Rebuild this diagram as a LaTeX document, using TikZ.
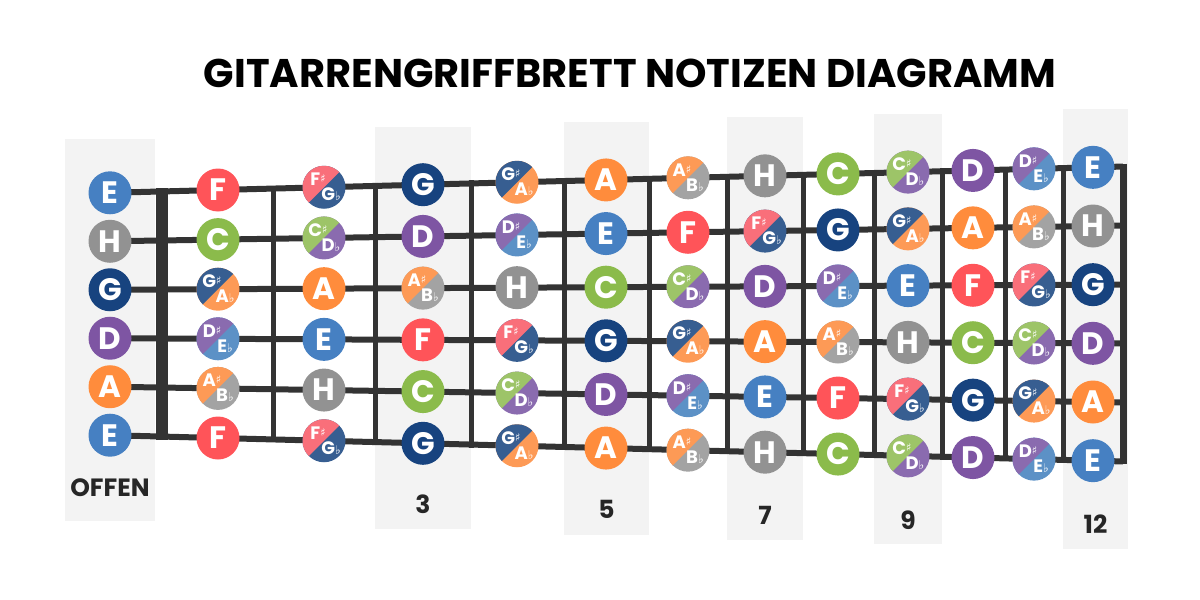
\documentclass[tikz,border=0pt]{standalone}
\usepackage{fontspec}
\setmainfont{Poppins}
\newfontfamily\accfont{DejaVu Sans}
\usetikzlibrary{positioning}
\pgfdeclarelayer{panels}
\pgfdeclarelayer{board}
\pgfsetlayers{panels,board,main}
\definecolor{ink}{HTML}{333333}
\definecolor{panelgray}{HTML}{F3F3F3}
\definecolor{noteC}{HTML}{8BBB4B}
\definecolor{noteD}{HTML}{7E55A3}
\definecolor{noteE}{HTML}{4680C2}
\definecolor{noteF}{HTML}{FF5459}
\definecolor{noteG}{HTML}{17437F}
\definecolor{noteA}{HTML}{FF8C3C}
\definecolor{noteH}{HTML}{929292}
\definecolor{noteCl}{HTML}{9DC468}
\definecolor{noteDl}{HTML}{8A6BAF}
\definecolor{noteEl}{HTML}{5C91C6}
\definecolor{noteFl}{HTML}{F96F7A}
\definecolor{noteGl}{HTML}{375E91}
\definecolor{noteAl}{HTML}{FD9A56}
\definecolor{noteHl}{HTML}{A3A3A3}
\tikzstyle{note} = [circle, minimum size=43pt, inner sep=0pt, text=white,
    font=\fontsize{31}{31}\selectfont\bfseries]
\tikzstyle{accidental} = [inner sep=0pt, text=white,
    font=\fontsize{18}{18}\selectfont\bfseries]
\tikzstyle{string} = [draw=ink, line width=6pt]
\tikzstyle{fret} = [draw=ink]
\tikzstyle{panel} = [fill=panelgray]
\tikzstyle{fretlabel} = [text=black!85, font=\fontsize{25}{25}\selectfont\bfseries]
\tikzstyle{title} = [text=black, font=\fontsize{40}{40}\selectfont\bfseries]
\tikzset{halfnote/.style 2 args={note, fill=#2, path picture={
    \fill[#1] (path picture bounding box.north west) -- (path picture bounding box.north east)
      -- (path picture bounding box.south west) -- cycle;}}}
\newcommand{\shp}{\raisebox{3pt}{\accfont\fontsize{11}{11}\selectfont ♯}}
\newcommand{\flt}{{\accfont\fontsize{12}{12}\selectfont ♭}}
\def\fretx{{162,273,375,471,564,649,727,803,874,942,1005,1063,1123}}
\def\notex{{110,218,324,423,517,606,688,765,838,908,973,1034,1093}}
\def\notenames{{"C","C","D","D","E","F","F","G","G","A","A","H"}}
\def\flatnames{{"D","D","E","E","F","G","G","A","A","B","B","C"}}
\def\isblack{{0,1,0,1,0,0,1,0,1,0,1,0}}

\begin{document}
\begin{tikzpicture}[x=1pt, y=-1pt]
    \useasboundingbox (0,0) rectangle (1200,600);
    \node [title] (title) at (630,73) {GITARRENGRIFFBRETT NOTIZEN DIAGRAMM};

    % grey panels with the fret numbers
    \foreach \xa/\xb/\ya/\yb/\ly/\txt in {65/155/139/521/488/OFFEN, 375/471/127/529/504/3,
        564/649/122/535/509/5, 727/803/117/540/515/7, 874/942/114/544/520/9, 1063/1128/109/549/524/12} {
        \begin{pgfonlayer}{panels}
            \fill [panel] (\xa,\ya) rectangle (\xb,\yb);
        \end{pgfonlayer}
        \node [fretlabel] (lab-\txt) at ({(\xa+\xb)/2},\ly) {\txt};
    }

    % the notes on every string
    \foreach \s/\open in {1/4,2/11,3/7,4/2,5/9,6/4} {
        \foreach \f in {0,...,12} {
            \pgfmathsetmacro{\x}{\notex[\f]}
            \pgfmathsetmacro{\y}{314+(\s-3.5)*(49+10*(\x-160)/965)}
            \pgfmathtruncatemacro{\p}{mod(\open+\f,12)}
            \pgfmathsetmacro{\lo}{\notenames[\p]}
            \pgfmathtruncatemacro{\blk}{\isblack[\p]}
            \ifnum\blk=0
                \node [note, fill=note\lo] (n-\s-\f) at (\x,\y) {\lo};
            \else
                \pgfmathsetmacro{\hi}{\notenames[\p+1]}
                \pgfmathsetmacro{\fl}{\flatnames[\p]}
                \node [halfnote={note\lo l}{note\hi l}] (n-\s-\f) at (\x,\y) {};
                \node [accidental] at ([shift={(-6,-8)}]n-\s-\f.center) {\lo\shp};
                \node [accidental] at ([shift={(7,7)}]n-\s-\f.center) {\fl\flt};
            \fi
        }
    }

    % strings from the open note to the last fret
    \foreach \s in {1,...,6} {
        \pgfmathsetmacro{\ye}{314+(\s-3.5)*(49+10*(1123-160)/965)}
        \coordinate (end-\s) at (1123,\ye);
        \begin{pgfonlayer}{board}
            \draw [string] (n-\s-0.center) -- (end-\s);
        \end{pgfonlayer}
    }

    % nut, frets and end bar
    \begin{pgfonlayer}{board}
        \foreach \f in {0,...,12} {
            \pgfmathsetmacro{\x}{\fretx[\f]}
            \pgfmathsetmacro{\h}{2.5*(49+10*(\x-160)/965)+3}
            \pgfmathsetmacro{\w}{\f==0 ? 12 : (\f==12 ? 7 : 5)}
            \draw [fret, line width=\w pt] (\x,314-\h) -- (\x,314+\h);
        }
    \end{pgfonlayer}
\end{tikzpicture}
\end{document}
